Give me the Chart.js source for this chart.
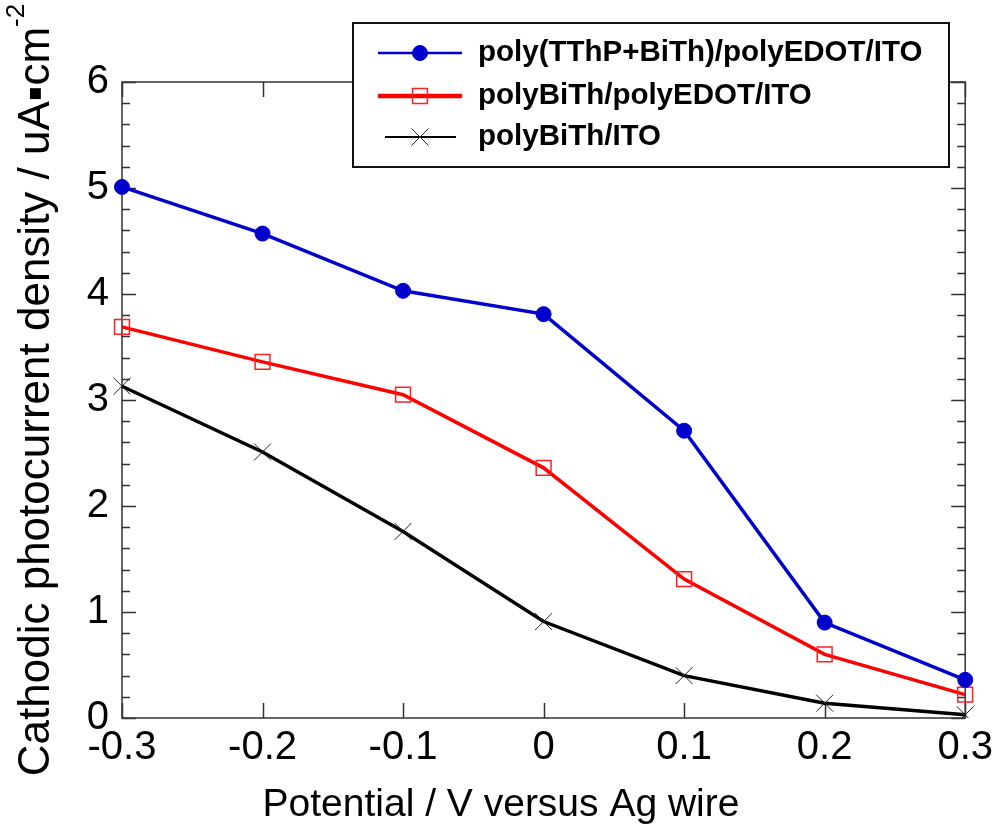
<!DOCTYPE html>
<html>
<head>
<meta charset="utf-8">
<script src="https://cdn.jsdelivr.net/npm/chart.js@4"></script>
<style>
  html, body { margin: 0; padding: 0; background: #fff; }
  canvas { display: block; }
</style>
</head>
<body>
<canvas id="chart" width="999" height="839"></canvas>
<script>
// data
const potentials = ['-0.3', '-0.2', '-0.1', '0', '0.1', '0.2', '0.3'];
const seriesNames = ['poly(TThP+BiTh)/polyEDOT/ITO', 'polyBiTh/polyEDOT/ITO', 'polyBiTh/ITO'];
const tthpBith = [5.01, 4.57, 4.03, 3.81, 2.71, 0.90, 0.36];
const bithEdot = [3.69, 3.36, 3.05, 2.36, 1.31, 0.60, 0.22];
const bithIto = [3.13, 2.51, 1.76, 0.91, 0.40, 0.14, 0.03];
const yTicks = [0, 1, 2, 3, 4, 5, 6];

const FONT = '"Liberation Sans", Arial, sans-serif';

// box, inward ticks, titles and legend
const frame = {
  id: 'frame',
  beforeDatasetsDraw(chart) {
    const { ctx, chartArea: a, scales: { x, y } } = chart;
    ctx.save();
    ctx.strokeStyle = '#333';
    ctx.lineWidth = 1.5;
    ctx.strokeRect(a.left, a.top, a.right - a.left, a.bottom - a.top);
    ctx.beginPath();
    for (let v = 0; v <= 6.001; v += 0.2) {
      const py = Math.round(y.getPixelForValue(v)) + 0.5;
      const major = Math.abs(v - Math.round(v)) < 0.01;
      const len = major ? 14 : 8;
      ctx.moveTo(a.left, py); ctx.lineTo(a.left + len, py);
      ctx.moveTo(a.right, py); ctx.lineTo(a.right - len, py);
    }
    potentials.forEach((p, i) => {
      const px = Math.round(x.getPixelForValue(i)) + 0.5;
      ctx.moveTo(px, a.bottom); ctx.lineTo(px, a.bottom - 15);
      ctx.moveTo(px, a.top); ctx.lineTo(px, a.top + 15);
    });
    ctx.stroke();
    ctx.restore();
  },
  afterDraw(chart) {
    const { ctx } = chart;
    ctx.save();
    ctx.fillStyle = '#000';
    // x title
    ctx.font = '39px ' + FONT;
    ctx.textAlign = 'center';
    ctx.textBaseline = 'middle';
    ctx.fillText('Potential / V versus Ag wire', 501, 805);
    // y title with superscript
    ctx.translate(37, 390);
    ctx.rotate(-Math.PI / 2);
    const main = 'Cathodic photocurrent density / uA\u25AAcm';
    ctx.font = '44px ' + FONT;
    const wMain = ctx.measureText(main).width;
    ctx.font = '26px ' + FONT;
    const wSup = ctx.measureText('-2').width;
    const x0 = -(wMain + wSup) / 2;
    ctx.font = '44px ' + FONT;
    ctx.textAlign = 'left';
    ctx.fillText(main, x0, 0);
    ctx.font = '26px ' + FONT;
    ctx.fillText('-2', x0 + wMain, -20);
    ctx.restore();

    // legend
    ctx.save();
    const box = { l: 353, t: 23, r: 949, b: 167 };
    ctx.fillStyle = '#fff';
    ctx.fillRect(box.l, box.t, box.r - box.l, box.b - box.t);
    ctx.strokeStyle = '#111';
    ctx.lineWidth = 2;
    ctx.strokeRect(box.l, box.t, box.r - box.l, box.b - box.t);
    const rows = [53, 96, 137];
    const samples = [
      { x1: 378, x2: 462, w: 2.5 },
      { x1: 378, x2: 462, w: 4.5 },
      { x1: 385, x2: 456, w: 2 }
    ];
    chart.data.datasets.forEach((ds, i) => {
      const ry = rows[i];
      const s = samples[i];
      ctx.strokeStyle = ds.borderColor;
      ctx.lineWidth = s.w;
      ctx.beginPath();
      ctx.moveTo(s.x1, ry); ctx.lineTo(s.x2, ry);
      ctx.stroke();
      ctx.fillStyle = ds.pointBackgroundColor;
      ctx.strokeStyle = ds.pointBorderColor;
      ctx.lineWidth = ds.pointBorderWidth;
      Chart.helpers.drawPoint(ctx, {
        pointStyle: ds.pointStyle,
        radius: ds.pointRadius,
        borderWidth: ds.pointBorderWidth
      }, 420, ry);
      ctx.fillStyle = '#000';
      ctx.font = 'bold 29.5px ' + FONT;
      ctx.textAlign = 'left';
      ctx.textBaseline = 'middle';
      ctx.fillText(ds.label, 478, ry);
    });
    ctx.restore();
  }
};

new Chart(document.getElementById('chart'), {
  type: 'line',
  data: {
    labels: potentials,
    datasets: [
      {
        label: seriesNames[0],
        data: tthpBith,
        borderColor: '#0000CC',
        borderWidth: 3.5,
        pointStyle: 'circle',
        pointRadius: 7.5,
        pointBackgroundColor: '#0000CC',
        pointBorderColor: '#0000CC',
        pointBorderWidth: 1
      },
      {
        label: seriesNames[1],
        data: bithEdot,
        borderColor: '#FF0000',
        borderWidth: 3.5,
        pointStyle: 'rect',
        pointRadius: 10.5,
        pointBackgroundColor: 'rgba(255,255,255,0)',
        pointBorderColor: '#FF2020',
        pointBorderWidth: 1.5
      },
      {
        label: seriesNames[2],
        data: bithIto,
        borderColor: '#000',
        borderWidth: 3.5,
        pointStyle: 'crossRot',
        pointRadius: 12,
        pointBackgroundColor: '#222',
        pointBorderColor: '#222',
        pointBorderWidth: 1
      }
    ]
  },
  options: {
    responsive: false,
    animation: false,
    devicePixelRatio: 1,
    layout: { padding: { top: 82, right: 29, left: 0, bottom: 0 } },
    plugins: { legend: { display: false }, tooltip: { enabled: false } },
    scales: {
      x: {
        type: 'category',
        offset: false,
        grid: { display: false, drawTicks: false },
        border: { display: false },
        ticks: { color: '#000', font: { family: FONT, size: 40 }, padding: 6, maxRotation: 0, autoSkip: false },
        afterFit(s) { s.height = 121; }
      },
      y: {
        min: 0,
        max: 6,
        afterBuildTicks(s) { s.ticks = yTicks.map(v => ({ value: v })); },
        grid: { display: false, drawTicks: false },
        border: { display: false },
        ticks: { color: '#000', font: { family: FONT, size: 40 }, padding: 13 },
        afterFit(s) { s.width = 122; }
      }
    }
  },
  plugins: [frame]
});
</script>
</body>
</html>
